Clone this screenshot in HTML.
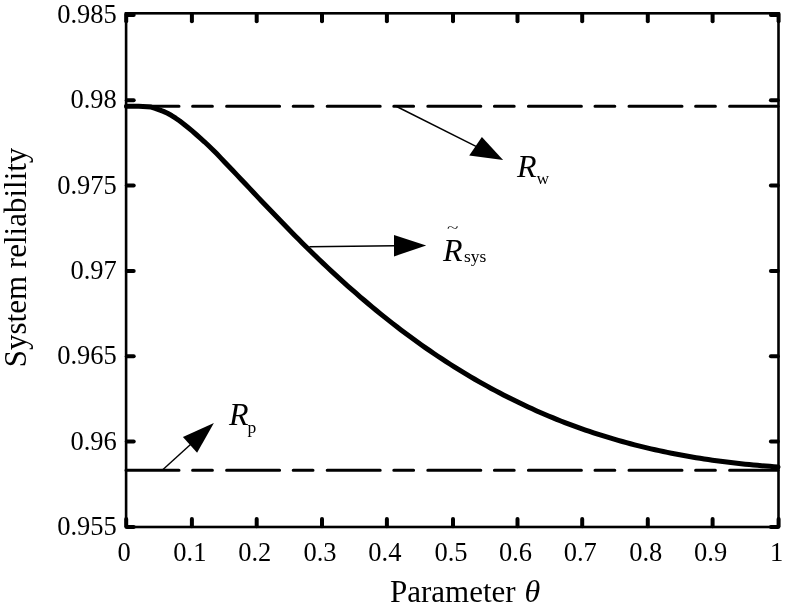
<!DOCTYPE html>
<html lang="en"><head><meta charset="utf-8"><title>System reliability vs parameter</title>
<style>html,body{margin:0;padding:0;background:#fff;}svg{display:block;}text{font-family:"Liberation Serif","Times New Roman",Times,serif;fill:#000;}.tl{font-size:26.5px;}.al{font-size:31px;}.it{font-style:italic;}</style></head><body>
<svg width="785" height="612" viewBox="0 0 785 612">
<rect x="0" y="0" width="785" height="612" fill="#fff"/>
<rect x="126.1" y="13.3" width="652.4" height="513.7" fill="none" stroke="#000" stroke-width="2.6"/>
<g stroke="#000" stroke-width="4" stroke-linecap="round" fill="none">
<line x1="126.2" y1="526.3" x2="126.2" y2="519.1"/>
<line x1="126.2" y1="14.0" x2="126.2" y2="21.2"/>
<line x1="191.9" y1="526.3" x2="191.9" y2="519.1"/>
<line x1="191.9" y1="14.0" x2="191.9" y2="21.2"/>
<line x1="256.7" y1="526.3" x2="256.7" y2="519.1"/>
<line x1="256.7" y1="14.0" x2="256.7" y2="21.2"/>
<line x1="322.0" y1="526.3" x2="322.0" y2="519.1"/>
<line x1="322.0" y1="14.0" x2="322.0" y2="21.2"/>
<line x1="386.9" y1="526.3" x2="386.9" y2="519.1"/>
<line x1="386.9" y1="14.0" x2="386.9" y2="21.2"/>
<line x1="453.0" y1="526.3" x2="453.0" y2="519.1"/>
<line x1="453.0" y1="14.0" x2="453.0" y2="21.2"/>
<line x1="517.5" y1="526.3" x2="517.5" y2="519.1"/>
<line x1="517.5" y1="14.0" x2="517.5" y2="21.2"/>
<line x1="582.2" y1="526.3" x2="582.2" y2="519.1"/>
<line x1="582.2" y1="14.0" x2="582.2" y2="21.2"/>
<line x1="647.8" y1="526.3" x2="647.8" y2="519.1"/>
<line x1="647.8" y1="14.0" x2="647.8" y2="21.2"/>
<line x1="712.6" y1="526.3" x2="712.6" y2="519.1"/>
<line x1="712.6" y1="14.0" x2="712.6" y2="21.2"/>
<line x1="778.6" y1="526.3" x2="778.6" y2="519.1"/>
<line x1="778.6" y1="14.0" x2="778.6" y2="21.2"/>
<line x1="126.8" y1="14.9" x2="133.7" y2="14.9"/>
<line x1="777.8" y1="14.9" x2="770.9" y2="14.9"/>
<line x1="126.8" y1="100.2" x2="133.7" y2="100.2"/>
<line x1="777.8" y1="100.2" x2="770.9" y2="100.2"/>
<line x1="126.8" y1="185.6" x2="133.7" y2="185.6"/>
<line x1="777.8" y1="185.6" x2="770.9" y2="185.6"/>
<line x1="126.8" y1="270.9" x2="133.7" y2="270.9"/>
<line x1="777.8" y1="270.9" x2="770.9" y2="270.9"/>
<line x1="126.8" y1="356.2" x2="133.7" y2="356.2"/>
<line x1="777.8" y1="356.2" x2="770.9" y2="356.2"/>
<line x1="126.8" y1="441.5" x2="133.7" y2="441.5"/>
<line x1="777.8" y1="441.5" x2="770.9" y2="441.5"/>
<line x1="126.8" y1="526.9" x2="133.7" y2="526.9"/>
<line x1="777.8" y1="526.9" x2="770.9" y2="526.9"/>
</g>
<g stroke="#000" stroke-width="3" stroke-linecap="round" stroke-dasharray="53.0 13.6 19.8 14.2" fill="none">
<line x1="126.0" y1="106.2" x2="778" y2="106.2"/>
<line x1="126.0" y1="470.2" x2="778" y2="470.2"/>
</g>
<path d="M126.5,106.30 L130.6,106.30 L134.7,106.30 L138.8,106.35 L142.9,106.42 L147.0,106.65 L151.1,107.07 L155.2,108.33 L159.3,109.88 L163.4,111.39 L167.5,113.27 L171.6,115.53 L175.7,118.17 L179.8,121.08 L183.9,124.23 L188.0,127.53 L192.1,130.95 L196.2,134.49 L200.3,138.11 L204.4,141.78 L208.4,145.53 L212.5,149.45 L216.6,153.57 L220.7,157.87 L224.8,162.21 L228.9,166.51 L233.0,170.80 L237.1,175.11 L241.2,179.45 L245.3,183.81 L249.4,188.16 L253.5,192.51 L257.6,196.85 L261.7,201.18 L265.8,205.50 L269.9,209.80 L274.0,214.09 L278.1,218.35 L282.2,222.60 L286.3,226.82 L290.4,231.01 L294.5,235.18 L298.6,239.31 L302.7,243.42 L306.8,247.49 L310.9,251.53 L315.0,255.52 L319.1,259.48 L323.2,263.39 L327.3,267.27 L331.4,271.10 L335.5,274.89 L339.6,278.64 L343.7,282.35 L347.8,286.02 L351.9,289.64 L356.0,293.23 L360.1,296.77 L364.2,300.27 L368.3,303.73 L372.3,307.15 L376.4,310.53 L380.5,313.87 L384.6,317.16 L388.7,320.41 L392.8,323.63 L396.9,326.80 L401.0,329.93 L405.1,333.02 L409.2,336.06 L413.3,339.07 L417.4,342.03 L421.5,344.95 L425.6,347.83 L429.7,350.67 L433.8,353.47 L437.9,356.23 L442.0,358.94 L446.1,361.62 L450.2,364.26 L454.3,366.85 L458.4,369.41 L462.5,371.92 L466.6,374.40 L470.7,376.83 L474.8,379.23 L478.9,381.59 L483.0,383.91 L487.1,386.19 L491.2,388.44 L495.3,390.64 L499.4,392.81 L503.5,394.94 L507.6,397.03 L511.7,399.09 L515.8,401.11 L519.9,403.09 L524.0,405.04 L528.1,406.95 L532.2,408.83 L536.2,410.66 L540.3,412.47 L544.4,414.24 L548.5,415.97 L552.6,417.67 L556.7,419.33 L560.8,420.96 L564.9,422.56 L569.0,424.12 L573.1,425.65 L577.2,427.14 L581.3,428.60 L585.4,430.04 L589.5,431.43 L593.6,432.80 L597.7,434.14 L601.8,435.44 L605.9,436.72 L610.0,437.96 L614.1,439.18 L618.2,440.36 L622.3,441.51 L626.4,442.64 L630.5,443.74 L634.6,444.81 L638.7,445.85 L642.8,446.86 L646.9,447.85 L651.0,448.81 L655.1,449.74 L659.2,450.65 L663.3,451.53 L667.4,452.38 L671.5,453.21 L675.6,454.01 L679.7,454.79 L683.8,455.55 L687.9,456.28 L692.0,456.99 L696.1,457.67 L700.1,458.33 L704.2,458.97 L708.3,459.58 L712.4,460.18 L716.5,460.75 L720.6,461.30 L724.7,461.83 L728.8,462.34 L732.9,462.83 L737.0,463.30 L741.1,463.74 L745.2,464.17 L749.3,464.58 L753.4,464.97 L757.5,465.35 L761.6,465.70 L765.7,466.04 L769.8,466.36 L773.9,466.66 L778.0,466.95" fill="none" stroke="#000" stroke-width="5" stroke-linejoin="round" stroke-linecap="round"/>
<g stroke="#000" stroke-width="1.4" fill="none">
<line x1="396.6" y1="106.5" x2="476" y2="146.4"/>
<line x1="309.4" y1="246.7" x2="395" y2="245.7"/>
<line x1="163" y1="469.5" x2="190.5" y2="444.5"/>
</g>
<g fill="#000" stroke="none">
<polygon points="503.1,160 481.9,137 469.2,155.4"/>
<polygon points="426.2,245.6 394,235 394,256.4"/>
<polygon points="213.9,422.9 182.9,437.1 197.1,452.7"/>
</g>
<text class="tl" x="116.8" y="23.1" text-anchor="end">0.985</text>
<text class="tl" x="116.8" y="108.4" text-anchor="end">0.98</text>
<text class="tl" x="116.8" y="193.8" text-anchor="end">0.975</text>
<text class="tl" x="116.8" y="279.1" text-anchor="end">0.97</text>
<text class="tl" x="116.8" y="364.4" text-anchor="end">0.965</text>
<text class="tl" x="116.8" y="449.7" text-anchor="end">0.96</text>
<text class="tl" x="116.8" y="535.1" text-anchor="end">0.955</text>
<text class="tl" x="124.2" y="561" text-anchor="middle">0</text>
<text class="tl" x="189.9" y="561" text-anchor="middle">0.1</text>
<text class="tl" x="254.7" y="561" text-anchor="middle">0.2</text>
<text class="tl" x="320.0" y="561" text-anchor="middle">0.3</text>
<text class="tl" x="384.9" y="561" text-anchor="middle">0.4</text>
<text class="tl" x="451.0" y="561" text-anchor="middle">0.5</text>
<text class="tl" x="515.5" y="561" text-anchor="middle">0.6</text>
<text class="tl" x="580.2" y="561" text-anchor="middle">0.7</text>
<text class="tl" x="645.8" y="561" text-anchor="middle">0.8</text>
<text class="tl" x="710.6" y="561" text-anchor="middle">0.9</text>
<text class="tl" x="776.6" y="561" text-anchor="middle">1</text>
<text class="al" x="390" y="602.4">Parameter <tspan class="it" dx="1" font-size="32">θ</tspan></text>
<text class="al" transform="translate(26.2,367.2) rotate(-90)">System reliability</text>
<text class="it" x="517" y="176.8" font-size="32">R</text><text x="536.4" y="184" font-size="17.5">w</text>
<text class="it" x="443" y="260.8" font-size="32">R</text><text x="464" y="261.6" font-size="17.5">sys</text>
<text transform="translate(446.9,233.1) scale(1,0.72)" font-size="21">~</text>
<text class="it" x="229" y="424.7" font-size="32">R</text><text x="247.5" y="433.3" font-size="17.5">p</text>
</svg></body></html>
